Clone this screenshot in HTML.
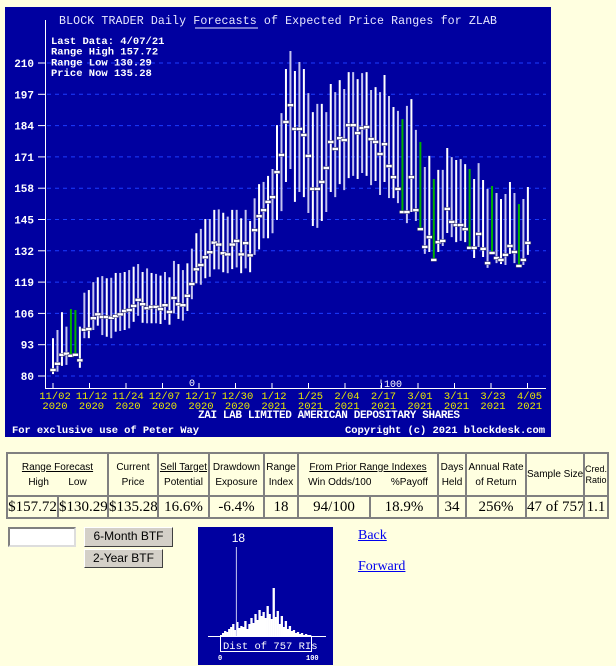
<!DOCTYPE html>
<html><head><meta charset="utf-8">
<style>
body{margin:0;background:#ffffe0;width:616px;height:666px;overflow:hidden;position:relative;font-family:"Liberation Sans",sans-serif}
#chart{position:absolute;left:0;top:0}
table{position:absolute;left:6px;top:452px;border-collapse:collapse;width:601px;table-layout:fixed;background:#ffffe0}
td{border:2px solid #808080;text-align:center;padding:0;color:#000;white-space:nowrap;overflow:hidden}
.h{font-family:"Liberation Sans",sans-serif;font-size:10px;line-height:15px;height:41px}
.d{font-family:"Liberation Serif",serif;font-size:15px;height:20px;line-height:20px}
.u{text-decoration:underline}
.btn{position:absolute;background:#d4d0c8;border:1px solid #404040;border-top-color:#fff;border-left-color:#fff;font-family:"Liberation Sans",sans-serif;font-size:12px;text-align:center;line-height:17px}
a{position:absolute;font-family:"Liberation Serif",serif;font-size:14px;color:#0000ee}
</style></head>
<body>
<svg id="chart" width="616" height="445"></svg>
<table>
<colgroup><col style="width:51px"><col style="width:50px"><col style="width:50px"><col style="width:51px"><col style="width:55px"><col style="width:34px"><col style="width:72px"><col style="width:68px"><col style="width:28px"><col style="width:60px"><col style="width:58px"><col style="width:24px"></colgroup>
<tr>
<td class="h" colspan="2"><span class="u">Range Forecast</span><br>High &nbsp; &nbsp; &nbsp; Low</td>
<td class="h">Current<br>Price</td>
<td class="h"><span class="u">Sell Target</span><br>Potential</td>
<td class="h">Drawdown<br>Exposure</td>
<td class="h">Range<br>Index</td>
<td class="h" colspan="2"><span class="u">From Prior Range Indexes</span><br>Win Odds/100 &nbsp; &nbsp; &nbsp; %Payoff</td>
<td class="h">Days<br>Held</td>
<td class="h">Annual Rate<br>of Return</td>
<td class="h">Sample Size</td>
<td class="h" style="font-size:9px;line-height:11px">Cred.<br>Ratio</td>
</tr>
<tr>
<td class="d">$157.72</td>
<td class="d">$130.29</td>
<td class="d">$135.28</td>
<td class="d">16.6%</td>
<td class="d">-6.4%</td>
<td class="d">18</td>
<td class="d">94/100</td>
<td class="d">18.9%</td>
<td class="d">34</td>
<td class="d">256%</td>
<td class="d">47 of 757</td>
<td class="d">1.1</td>
</tr>
</table>
<div style="position:absolute;left:8px;top:527px;width:64px;height:16px;background:#fff;border:2px solid #808080;border-right-color:#ddd;border-bottom-color:#ddd"></div>
<div class="btn" style="left:84px;top:527px;width:87px;height:18px">6-Month BTF</div>
<div class="btn" style="left:84px;top:549px;width:77px;height:17px">2-Year BTF</div>
<svg style="position:absolute;left:198px;top:527px" width="135" height="138" id="hist"></svg>
<a style="left:358px;top:528px"><u>Back</u></a>
<a style="left:358px;top:559px"><u>Forward</u></a>
<script>
const highs=[95.7,99.1,106.5,100.5,107.8,107.4,100.5,114.6,115.7,119.0,121.0,121.5,120.6,120.8,122.8,122.8,123.2,124.0,125.4,126.5,123.2,124.7,122.8,122.4,121.7,123.2,121.0,127.8,126.5,124.0,126.8,132.9,139.3,141.1,145.2,145.2,149.0,149.2,147.8,146.2,149.0,149.0,145.5,149.0,144.4,153.8,159.7,160.6,163.1,166.0,184.2,189.2,207.5,215.0,206.7,210.4,207.5,197.5,189.6,193.0,193.0,189.6,201.3,197.9,202.9,199.2,206.2,206.2,203.3,205.8,206.2,198.8,200.0,197.9,205.0,196.3,191.7,190.1,186.7,192.2,195.0,182.2,177.2,166.8,171.4,161.8,165.6,165.6,174.7,170.9,169.7,170.1,168.0,166.0,161.8,168.4,161.4,157.7,158.9,156.0,153.5,155.6,160.6,156.0,151.4,153.5,158.5];
const prices=[82.5,85.1,88.8,89.3,88.4,88.8,86.5,99.2,99.5,104.0,105.6,104.5,104.5,104.2,104.9,105.6,107.0,107.4,109.1,111.6,109.8,108.2,108.7,108.7,107.8,109.4,106.6,112.4,109.8,109.4,113.3,118.2,124.3,126.1,129.3,131.4,135.4,134.6,131.0,130.5,134.6,136.1,130.5,135.2,130.1,140.6,146.4,148.9,152.3,154.3,164.7,171.8,185.5,192.5,182.6,182.6,180.1,171.4,157.7,157.7,160.6,166.4,177.2,174.3,178.8,178.0,184.2,184.2,180.9,183.0,183.4,178.4,177.2,172.2,176.3,167.2,162.6,157.7,148.1,148.1,162.6,148.9,141.0,133.6,137.7,128.2,135.6,136.1,149.4,144.0,142.7,142.7,141.0,133.2,133.2,139.0,132.8,126.9,131.1,129.0,128.2,130.3,134.0,131.5,125.7,128.2,135.28];
const lows=[80.8,81.8,84.2,84.6,88.4,88.8,83.4,95.7,95.7,99.1,100.9,97.0,96.3,95.7,98.4,98.7,99.1,99.8,102.5,105.0,102.1,101.9,101.9,101.9,101.6,103.3,101.3,106.0,103.7,103.0,107.0,111.9,118.5,117.9,120.6,121.2,124.3,124.3,123.1,122.7,124.4,125.1,122.7,124.7,123.1,130.3,132.6,137.2,137.2,139.3,144.8,148.5,160.6,166.0,152.3,156.4,154.3,147.7,142.3,141.5,144.4,148.1,156.4,154.3,159.7,157.2,162.2,163.1,161.8,164.3,163.1,159.3,161.0,155.2,160.6,153.9,153.9,151.8,148.1,143.5,148.1,144.4,141.0,130.7,131.5,128.2,131.5,134.0,139.4,137.7,135.6,136.1,135.6,133.2,129.0,133.6,129.4,124.9,131.1,126.9,126.5,126.1,130.7,126.9,125.7,126.1,130.29];
const greenIdx=[4,5,78,82,85,93,98,104];
const yTicks=[80,93,106,119,132,145,158,171,184,197,210];
const dateLabels=["11/02","11/12","11/24","12/07","12/17","12/30","1/12","1/25","2/04","2/17","3/01","3/11","3/23","4/05"];
const yearLabels=["2020","2020","2020","2020","2020","2020","2021","2021","2021","2021","2021","2021","2021","2021"];
const histCounts=[1,3,5,4,7,9,12,6,14,8,10,9,15,7,12,18,13,22,16,26,20,24,18,30,22,17,48,19,25,12,20,9,15,7,10,5,6,3,4,2,3,1,2,1,1];

const NS="http://www.w3.org/2000/svg";
function mk(parent,tag,attrs,text){const e=document.createElementNS(NS,tag);for(const k in attrs)e.setAttribute(k,attrs[k]);if(text!==undefined)e.textContent=text;parent.appendChild(e);return e;}
const svg=document.getElementById('chart');
const yS=v=>376-(v-80)*31.3/13;
const xS=i=>53+i*4.48;
const mono='"Liberation Mono",monospace';

let el=mk(svg,'rect',{x:5,y:7,width:546,height:430,fill:'#0000a0'});



yTicks.forEach(v=>{
  const y=yS(v);
  let g=mk(svg,'line',{x1:47,x2:546,y1:y,y2:y,stroke:'#1c3cff','stroke-width':1,'stroke-dasharray':'4,4'});
  
  
  mk(svg,'line',{x1:38,x2:45,y1:y,y2:y,stroke:'#fff','stroke-width':1});
  let t=mk(svg,'text',{x:34,y:y+4,'text-anchor':'end',fill:'#fff','font-family':mono,'font-size':11,'font-weight':'bold'},String(v));
  
  
});
let ax=mk(svg,'line',{x1:45.5,x2:45.5,y1:20,y2:388,stroke:'#fff','stroke-width':1});


let xa=mk(svg,'line',{x1:45,x2:546,y1:388.5,y2:388.5,stroke:'#fff','stroke-width':1});



dateLabels.forEach((d,k)=>{
  const x=53+k*36.5;
  mk(svg,'line',{x1:x,x2:x,y1:383,y2:388,stroke:'#fff','stroke-width':1});
  let t=mk(svg,'text',{x:x+2,y:399,'text-anchor':'middle',fill:'#e8e800','font-family':mono,'font-size':10.5},d);
  
  
  let t2=mk(svg,'text',{x:x+2,y:409,'text-anchor':'middle',fill:'#e8e800','font-family':mono,'font-size':10.5},yearLabels[k]);
  
  
});
mk(svg,'text',{x:189,y:386,fill:'#fff','font-family':mono,'font-size':10},'0');
mk(svg,'text',{x:378,y:387,fill:'#fff','font-family':mono,'font-size':10},'\u00a6100');

highs.forEach((h,i)=>{
  const x=xS(i);
  const green=greenIdx.includes(i);
  let b=mk(svg,'line',{x1:x,x2:x,y1:yS(h),y2:yS(lows[i]),stroke:green?'#00b000':(i%2?'#c4c4f0':'#ffffff'),'stroke-width':2});
  
  
  let p=mk(svg,'rect',{x:x-3,y:yS(prices[i])-1.5,width:6,height:3,fill:'#fff',stroke:'#202060','stroke-width':0.5});
  
  
});

let title=mk(svg,'text',{x:59,y:24,fill:'#e8e8ff','font-family':mono,'font-size':11.6,textLength:438},'BLOCK TRADER Daily Forecasts of Expected Price Ranges for  ZLAB');


mk(svg,'line',{x1:195,x2:258,y1:28,y2:28,stroke:'#e8e8ff','stroke-width':1});
['Last Data: 4/07/21','Range High 157.72','Range Low  130.29','Price Now  135.28'].forEach((s,k)=>{
  let t=mk(svg,'text',{x:51,y:44+k*10.7,fill:'#fff','font-family':mono,'font-size':10.5,'font-weight':'bold'},s);
  
  
});
let st=mk(svg,'text',{x:198,y:418,fill:'#fff','font-family':mono,'font-size':11,'font-weight':'bold',textLength:262},'ZAI LAB LIMITED AMERICAN DEPOSITARY SHARES');


let f1=mk(svg,'text',{x:12,y:433,fill:'#fff','font-family':mono,'font-size':10.5,'font-weight':'bold',textLength:187},'For exclusive use of Peter Way');


let f2=mk(svg,'text',{x:345,y:433,fill:'#fff','font-family':mono,'font-size':10.5,'font-weight':'bold',textLength:200},'Copyright (c) 2021 blockdesk.com');



// histogram
const hs=document.getElementById('hist');
mk(hs,'rect',{x:0,y:0,width:135,height:138,fill:'#0000a0'});
const hx=v=>22+v*0.91;
const bw=100/histCounts.length;
histCounts.forEach((c,k)=>{
  let r=mk(hs,'rect',{x:hx(k*bw),y:109-c,width:bw*0.91+0.3,height:c,fill:'#fff'});
  
  
});
mk(hs,'line',{x1:10,x2:128,y1:109.5,y2:109.5,stroke:'#fff'});
let ri=mk(hs,'line',{x1:hx(18),x2:hx(18),y1:20,y2:109,stroke:'#c8c8f0','stroke-width':1});


mk(hs,'text',{x:hx(18)+2,y:15,'text-anchor':'middle',fill:'#fff','font-family':'"Liberation Sans",sans-serif','font-size':12},'18');
mk(hs,'line',{x1:22.5,x2:22.5,y1:110,y2:124,stroke:'#fff'});
mk(hs,'line',{x1:113.5,x2:113.5,y1:110,y2:124,stroke:'#fff'});
mk(hs,'line',{x1:22,x2:114,y1:124.5,y2:124.5,stroke:'#fff'});
mk(hs,'text',{x:25,y:122,fill:'#fff','font-family':mono,'font-size':10.5},'Dist of 757 RIs');
mk(hs,'text',{x:20,y:133,fill:'#fff','font-family':mono,'font-size':7,'font-weight':'bold'},'0');
mk(hs,'text',{x:108,y:133,fill:'#fff','font-family':mono,'font-size':7,'font-weight':'bold'},'100');
</script>
</body></html>
